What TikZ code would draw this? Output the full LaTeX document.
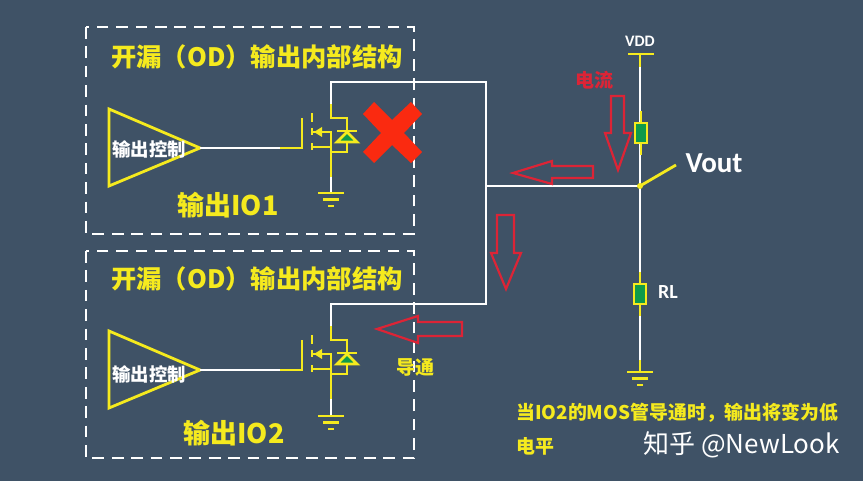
\documentclass[tikz,border=0pt]{standalone}
\usepackage{fontspec}
\setmainfont{Noto Sans CJK SC}
\newfontfamily\latinfont{Carlito}
\usetikzlibrary{arrows.meta}
\definecolor{slidebg}{HTML}{3F5266}
\definecolor{wireyellow}{HTML}{F5EA1E}
\definecolor{partgreen}{HTML}{0E9A4A}
\definecolor{flowred}{HTML}{DC2436}
\definecolor{crossred}{HTML}{FA2A10}
\newcommand{\tsize}[1]{\fontsize{#1}{#1}\selectfont}

\tikzset{
  wire/.style={white,line width=2pt},
  part/.style={wireyellow,line width=2.8pt},
  dashbox/.style={white,line width=2.8pt,dash pattern=on 11.7pt off 7.7pt},
  flow/.style={flowred,line width=2.2pt,line join=miter},
  ttl/.style={wireyellow,font=\tsize{25.3}\bfseries,inner sep=0pt},
  iolabel/.style={wireyellow,font=\tsize{27}\bfseries,inner sep=0pt},
  note/.style={wireyellow,font=\tsize{18.9}\bfseries,inner sep=0pt,anchor=west},
  ctrl/.style={white,font=\tsize{18.4}\bfseries,inner sep=0pt},
  gnd/.pic={
    \draw[part] (-13,0) -- (13,0);
    \draw[part] (-8,6.5) -- (8,6.5);
    \draw[part] (-3,13) -- (3,13);
  },
  res/.pic={
    \draw[part] (0,-12) -- (0,32);
    \draw[part,fill=partgreen] (-6,0) rectangle (6,20);
  },
  mos/.pic={
    \coordinate (g) at (-51,30);
    \coordinate (d) at (0,-14);
    \coordinate (s) at (0,59);
    \draw[part] (g) -- (-29,30) -- (-29,0);
    \draw[part] (-19,-5) -- (-19,4);
    \draw[part] (-19,10) -- (-19,17);
    \draw[part] (-19,25) -- (-19,32);
    \draw[part] (d) -- (0,0) -- (16,0) -- (16,34) -- (0,34);
    \draw[part] (-19,14) -- (0,14) -- (s);
    \draw[part] (-19,29) -- (0,29);
    \fill[wireyellow] (-17,14) -- (-9,9) -- (-9,19) -- cycle;
    \draw[part] (6,13) -- (26,13);
    \draw[part,fill=partgreen] (16,14) -- (6,24) -- (26,24) -- cycle;
  },
}

\begin{document}
\begin{tikzpicture}[x=1pt,y=-1pt]
  \useasboundingbox[fill=slidebg] (0,0) rectangle (863,481);
  % two output blocks
  \draw[dashbox] (86,27) rectangle (414,234);
  \draw[dashbox] (86,251) rectangle (414,458);
  \node[ttl] (title1) at (257,57) {开漏（OD）输出内部结构};
  \node[ttl] (title2) at (257,279) {开漏（OD）输出内部结构};
  \draw[part] (109,109) -- (109,186) -- (200,148) -- cycle;
  \draw[part] (109,331) -- (109,408) -- (200,370) -- cycle;
  \node[ctrl] (ctrl1) at (149,149) {输出控制};
  \node[ctrl] (ctrl2) at (149,374) {输出控制};
  \coordinate (out1) at (200,148);
  \coordinate (out2) at (200,370);
  \pic (m1) at (331,118) {mos};
  \pic (m2) at (331,340) {mos};
  \node[iolabel] (io1) at (228,205) {输出IO1};
  \node[iolabel] (io2) at (234,433) {输出IO2};
  % grounds
  \coordinate (g1) at (331,193);
  \coordinate (g2) at (331,416);
  \coordinate (g3) at (640,372);
  % wires
  \coordinate (top1) at (331,82);
  \coordinate (top2) at (331,304);
  \coordinate (bus1) at (486,82);
  \coordinate (bus2) at (486,304);
  \coordinate (busm) at (486,186);
  \coordinate (vdd) at (640,54);
  \coordinate (vo) at (640,186);
  \draw[wire] (out1) -- (m1g);
  \draw[wire] (out2) -- (m2g);
  \draw[wire] (m1d) -- (top1) -- (bus1) -- (bus2) -- (top2) -- (m2d);
  \draw[wire] (m1s) -- (g1);
  \draw[wire] (m2s) -- (g2);
  \draw[wire] (busm) -- (vo);
  \draw[wire] (vdd) -- (g3);
  % supply side
  \draw[part] (628,54) -- (654,54);
  \draw[part] (vdd) -- (640,67);
  \pic at (641,123) {res};
  \pic at (640,284) {res};
  \draw[part] (640,360) -- (g3);
  \pic at (g1) {gnd};
  \pic at (g2) {gnd};
  \pic at (g3) {gnd};
  \coordinate (sw) at (676,165);
  \draw[part] (sw) -- (vo);
  \fill[wireyellow] (vo) circle (3);
  \node[white,font=\tsize{16}\latinfont\bfseries,inner sep=0pt] (vddl) at (640,41) {VDD};
  \node[white,font=\tsize{29}\latinfont\bfseries,inner sep=0pt] (vout) at (714,163) {Vout};
  \node[white,font=\tsize{20}\latinfont\bfseries,inner sep=0pt] (rl) at (668,292) {RL};
  % current arrows
  \draw[flow] (611,96) -- (624,96) -- (624,133) -- (631,133) -- (618,170) -- (605,133) -- (611,133) -- cycle;
  \draw[flow] (593,166) -- (552,166) -- (552,161) -- (513,173) -- (552,184) -- (552,178) -- (593,178) -- cycle;
  \draw[flow] (497,215) -- (514,215) -- (514,253) -- (521,253) -- (506,289) -- (491,253) -- (497,253) -- cycle;
  \draw[flow] (462,322) -- (418,322) -- (418,316) -- (377,329) -- (418,343) -- (418,336) -- (462,336) -- cycle;
  \node[flowred,font=\tsize{19}\bfseries,inner sep=0pt] (cur) at (594,80) {电流};
  \node[wireyellow,font=\tsize{19}\bfseries,inner sep=0pt] (on) at (415,367) {导通};
  % cross over IO1
  \fill[crossred] (374,102) -- (392,120) -- (411,102) -- (422,114) -- (404,133) -- (422,152) -- (411,163) -- (392,145) -- (374,163) -- (363,152) -- (381,133) -- (363,114) -- cycle;
  \node[note] (note1) at (516,413) {当IO2的MOS管导通时，输出将变为低};
  \node[note] (note2) at (516,446) {电平};
  \node[white,font=\tsize{26},inner sep=0pt,anchor=east] (mark) at (840,445) {知乎 @NewLook};
\end{tikzpicture}
\end{document}
